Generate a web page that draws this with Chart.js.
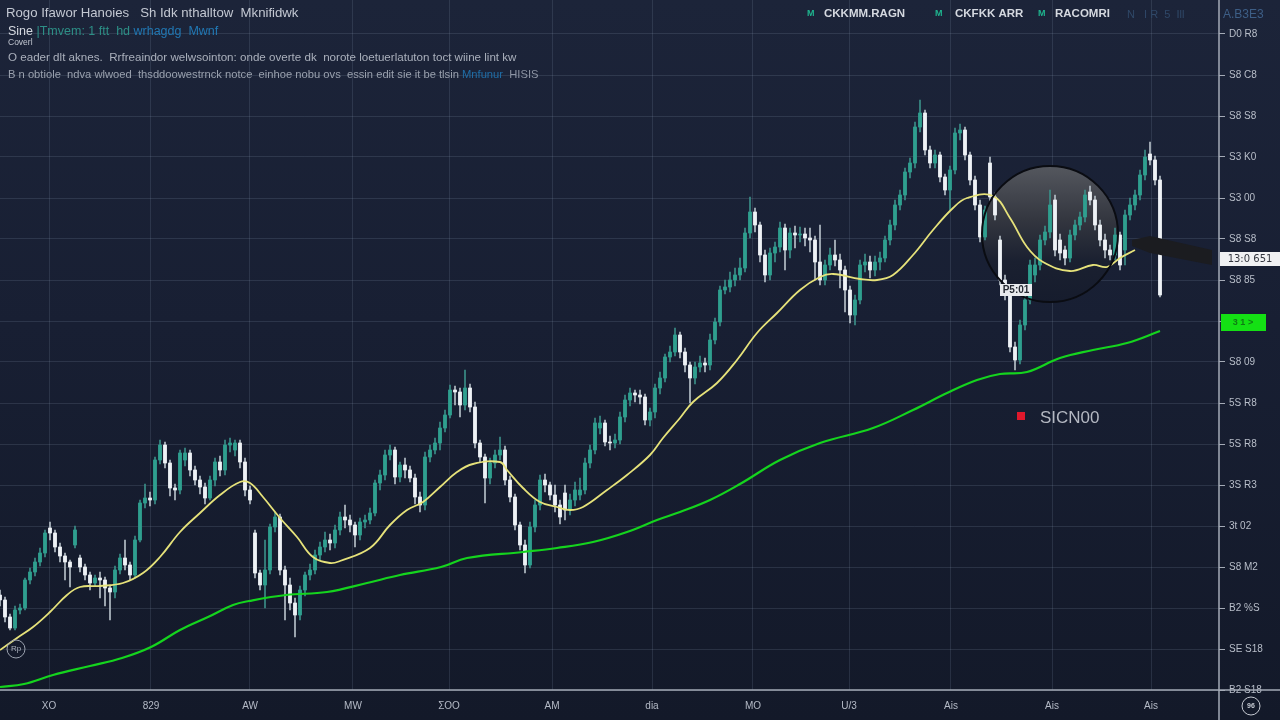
<!DOCTYPE html>
<html>
<head>
<meta charset="utf-8">
<title>chart</title>
<script src="https://cdn.jsdelivr.net/npm/chart.js@4"></script>
<style>
html,body{margin:0;padding:0;width:1280px;height:720px;overflow:hidden;background:#151b2d}
canvas{display:block}
</style>
</head>
<body>
<canvas id="chart" width="1280" height="720"></canvas>
<script>
// prices are in axis units, candles are one per session
var opens = [95,90,73,62,80,82,110,118,128,137,162,157,143,134,128,145,132,123,115,107,112,110,102,98,120,132,125,115,150,187,192,190,230,245,227,202,200,230,237,220,210,203,192,210,228,220,245,240,247,228,200,157,117,105,120,163,173,120,105,87,75,100,115,120,135,143,150,147,160,173,170,165,155,168,170,177,207,215,235,240,213,225,220,212,193,185,233,240,247,262,275,300,298,285,302,283,247,233,212,227,235,240,210,193,165,145,125,163,185,210,205,195,185,197,180,190,195,200,227,240,262,267,248,247,250,273,290,297,295,293,270,278,302,312,333,338,355,338,325,312,323,327,325,350,368,400,403,410,415,422,457,478,465,435,415,437,443,462,440,457,455,456,452,450,428,410,425,435,430,420,400,375,390,425,428,420,428,432,450,465,485,495,518,527,563,577,540,527,535,513,500,520,557,560,535,510,485,453,527,493,450,410,395,343,330,365,390,415,425,450,458,490,450,440,432,455,465,473,498,490,465,450,440,435,455,440,475,485,495,515,536,530,510];
var closes = [90,73,62,80,82,110,118,128,137,157,157,143,134,128,123,160,123,115,107,112,110,102,98,120,132,125,115,150,187,192,190,230,245,227,202,200,237,237,220,210,203,192,210,228,220,245,247,247,228,200,190,117,105,120,163,173,120,105,87,75,100,115,120,135,143,150,147,160,173,170,165,155,168,170,177,207,215,235,240,213,225,220,212,193,185,233,240,247,262,275,300,298,285,302,283,247,233,212,227,235,240,210,193,165,145,125,163,185,210,205,195,185,173,180,190,200,200,227,240,267,267,248,247,250,273,290,297,295,293,270,278,302,312,333,338,355,338,325,312,323,327,325,350,368,400,403,410,415,422,457,478,465,435,415,437,443,462,440,457,455,456,452,450,428,410,425,435,430,420,400,375,390,425,428,420,428,432,450,465,485,495,518,527,563,577,540,527,535,513,500,520,557,560,535,510,485,453,480,493,475,410,395,343,330,365,390,425,425,450,458,485,440,437,432,455,465,473,495,490,465,450,440,435,455,425,475,485,495,515,533,530,510,395];
var highs = [100,93,76,84,86,112,122,132,142,160,168,160,147,137,130,164,135,126,118,115,118,113,105,124,136,150,128,154,190,206,198,233,250,248,230,206,240,242,240,224,214,207,214,232,234,250,252,250,250,232,204,160,120,150,166,178,176,124,112,92,104,118,126,140,148,158,156,165,178,185,175,168,172,175,182,210,220,240,245,243,228,232,224,216,198,238,245,252,268,280,305,304,302,320,306,288,250,236,232,240,253,244,214,196,168,150,168,190,215,216,208,205,190,205,196,208,212,232,245,272,274,270,254,256,278,295,302,300,300,296,282,306,318,336,344,362,358,342,328,328,334,332,356,372,404,410,418,422,432,462,493,482,468,440,442,448,468,466,462,464,463,462,462,454,465,430,442,450,436,424,404,395,430,436,434,434,438,454,470,490,500,522,532,568,590,580,544,540,538,516,524,562,566,563,538,514,490,484,533,497,454,415,400,348,370,394,430,432,455,464,500,495,456,444,460,470,478,500,504,494,470,456,445,462,458,480,492,500,520,540,548,534,514];
var lows = [84,68,60,60,76,80,106,114,124,133,150,138,128,110,103,142,118,110,100,104,92,84,70,92,116,120,110,112,148,182,184,186,226,222,194,190,196,224,214,205,196,186,190,204,214,215,238,234,222,194,186,112,100,82,116,158,115,70,80,53,70,94,110,116,130,138,140,142,155,162,158,143,150,162,166,174,200,210,230,206,208,212,208,186,178,180,228,236,240,258,272,285,273,280,278,242,228,187,206,222,230,205,188,160,140,117,122,158,180,198,190,178,166,170,175,184,190,196,222,236,256,244,240,242,246,268,284,288,286,265,264,272,296,308,328,334,332,318,287,306,318,318,320,346,364,396,398,404,410,418,452,458,428,408,410,428,438,420,432,442,448,444,438,410,405,405,420,424,402,378,367,365,386,418,412,414,420,428,445,460,480,490,512,522,558,535,522,522,508,495,480,516,550,530,505,480,448,450,488,470,405,390,338,320,326,360,386,408,420,445,452,434,430,425,428,450,460,468,485,460,444,432,430,430,420,425,470,480,490,510,525,505,393];

var fastX = [0,3.4,6.6,10,13.4,16,20,24.6,28.6,32,36,40,44,48,50,52.6,56,59.4,62.6,66,68,74,78,81.4,84.6,88,91.4,94.6,100,101.4,104.6,108,111.4,114,116.6,121.4,125.4,130,132.6,136,138.6,143.4,147.4,151.4,155.4,160,164,166.6,172,175.4,178.6,182.6,186.6,190.6,193.4,198.6,202,205.4,208.6,214,218.6,221.4,224,227];
var fastY = [40,52,63,78,95,103,104,107,117,133,158,177,195,208,207,193,172,153,133,127,129,142,165,180,188,203,218,226,228,220,202,188,183,180,183,200,215,235,252,272,288,307,330,357,377,400,413,416,411,410,415,435,460,482,492,494,472,443,428,419,425,423,432,440];
var slowX = [0,4.8,10.6,18,24.4,30.2,36,41.6,46.6,49.8,57.2,65.4,73.4,80,88.2,93.4,104.6,111.4,118.6,125.4,131.4,136,142,148,156,164,174.6,182.6,189.4,195.4,200,205.4,212,218.6,225.4,232];
var slowY = [3,6,15,24,32,43,60,73,85,89,95,98,107,115,123,132,138,142,148,158,170,178,190,206,230,247,262,280,297,310,316,318,332,340,347,359];

var priceTicks = [0,41,82,123,164,205,246,287,328,369,410,451,492,533,574,615,656];
var priceLabels = ['B2 S18','SE S18','B2 %S','S8 M2','3t 02','3S R3','5S R8','5S R8','S8 09','','S8 85','S8 S8','S3 00','S3 K0','S8 S8','S8 C8','D0 R8'];
var dateTicks = [9.8,30.2,50,70.6,89.8,110.4,130.4,150.6,169.8,190.2,210.4,230.2];
var dateLabels = ['XO','829','AW','MW','\u01A9OO','AM','dia','MO','U/3','Ais','Ais','Ais'];

var headLines = [
	[['Rogo Ifawor Hanoies   Sh Idk nthalltow  Mknifidwk', '#c3c8d2']],
	[['Sine ', '#d5d9e0'], ['|Tmvem: 1 ftt  hd ', '#2d8f86'], ['wrhagdg  Mwnf', '#2178b4']],
	[['Coverl', '#c3c8d2']],
	[['O eader dlt aknes.  Rrfreaindor welwsointon: onde overte dk  norote loetuerlatuton toct wiine lint kw', '#aab0bc']],
	[['B n obtiole  ndva wlwoed  thsddoowestrnck notce  einhoe nobu ovs  essin edit sie it be tlsin ', '#9aa1ae'], ['Mnfunur', '#1f6ea8'], ['  HISIS', '#8d94a3']]
];
var topTabs = ['CKKMM.RAGN', 'CKFKK ARR', 'RACOMRI'];

var candles = opens.map(function (o, i) { return {x: i, y: [o, closes[i]]}; });
var wicks = highs.map(function (h, i) { return {x: i, y: [lows[i], h]}; });
var bodyColors = opens.map(function (o, i) { return closes[i] >= o ? '#2f9f8f' : '#eef2f6'; });
var wickColors = opens.map(function (o, i) { return closes[i] >= o ? '#3a8f88' : '#b6c0c8'; });

function pairs(xs, ys) {
	return xs.map(function (x, i) { return {x: x, y: ys[i]}; });
}

function drawText(c, text, x, y, font, color, align) {
	c.font = font;
	c.fillStyle = color;
	c.textAlign = align || 'left';
	c.textBaseline = 'middle';
	c.fillText(text, x, y);
}

// backdrop, grey lens and everything that sits on top of the price panel
var decorations = {
	id: 'decorations',
	beforeDraw: function (chart) {
		var c = chart.ctx;
		var g = c.createLinearGradient(0, 0, 0, 720);
		g.addColorStop(0, '#1c2439');
		g.addColorStop(0.45, '#181f33');
		g.addColorStop(1, '#131929');
		c.save();
		c.fillStyle = g;
		c.fillRect(0, 0, 1280, 720);
		c.restore();
	},
	beforeDatasetsDraw: function (chart) {
		var c = chart.ctx;
		var g = c.createLinearGradient(0, 165, 0, 303);
		g.addColorStop(0, '#55585f');
		g.addColorStop(0.4, '#33363f');
		g.addColorStop(0.7, '#1a2030');
		g.addColorStop(1, '#161c2d');
		c.save();
		c.beginPath();
		c.arc(1050, 234, 68, 0, Math.PI * 2);
		c.fillStyle = g;
		c.fill();
		c.restore();
	},
	afterDatasetsDraw: function (chart) {
		var c = chart.ctx;
		c.save();
		// lens rim
		c.beginPath();
		c.arc(1050, 234, 68, 0, Math.PI * 2);
		c.lineWidth = 2;
		c.strokeStyle = '#0a0c12';
		c.stroke();
		// lens handle
		c.beginPath();
		c.moveTo(1132, 240);
		c.lineTo(1150, 236);
		c.lineTo(1212, 250);
		c.lineTo(1212, 265);
		c.lineTo(1150, 253);
		c.lineTo(1132, 246);
		c.closePath();
		c.fillStyle = '#1b1c20';
		c.fill();
		// white flag under the lens
		c.fillStyle = '#e9ebee';
		c.fillRect(1000, 284, 32, 12);
		drawText(c, 'P5:01', 1016, 290, 'bold 10px "Liberation Sans"', '#262a33', 'center');
		// red marker and its caption
		c.fillStyle = '#e0182c';
		c.fillRect(1017, 412, 8, 8);
		drawText(c, 'SICN00', 1040, 418, '17px "Liberation Sans"', '#b4b8c2');
		// badges
		c.strokeStyle = '#9ba2af';
		c.lineWidth = 1;
		c.beginPath();
		c.arc(16, 649, 9, 0, Math.PI * 2);
		c.stroke();
		drawText(c, 'Rp', 16, 649, '8px "Liberation Sans"', '#aab0bc', 'center');
		c.strokeStyle = '#c6cad2';
		c.beginPath();
		c.arc(1251, 706, 9, 0, Math.PI * 2);
		c.stroke();
		drawText(c, '96', 1251, 706, 'bold 7px "Liberation Sans"', '#c6cad2', 'center');
		// price tags on the axis
		c.fillStyle = '#f0f1f3';
		c.fillRect(1220, 252, 60, 14);
		drawText(c, '13:0 651', 1250, 259, '10px "DejaVu Sans"', '#33363f', 'center');
		c.fillStyle = '#14e014';
		c.fillRect(1221, 314, 45, 17);
		drawText(c, '3 1 >', 1243, 323, 'bold 9px "Liberation Sans"', '#0f7a14', 'center');
		// header text
		var rows = [13, 32, 43, 58, 75];
		var sizes = [13.2, 12.5, 8.5, 11.6, 11.2];
		headLines.forEach(function (parts, r) {
			var x = r == 0 ? 6 : 8;
			parts.forEach(function (p) {
				var font = sizes[r] + 'px "Liberation Sans"';
				drawText(c, p[0], x, rows[r], font, p[1]);
				x += c.measureText(p[0]).width;
			});
		});
		// tabs at top right
		var markX = [807, 935, 1038];
		var tabX = [824, 955, 1055];
		topTabs.forEach(function (t, i) {
			drawText(c, 'M', markX[i], 14, 'bold 9px "Liberation Sans"', '#1fb58f');
			drawText(c, t, tabX[i], 14, 'bold 11.5px "Liberation Sans"', '#d5d9e0');
		});
		drawText(c, 'A.B3E3', 1223, 15, '12px "Liberation Sans"', '#3d5e86');
		drawText(c, 'N   I R  5  Ill', 1127, 15, '11px "Liberation Sans"', '#2f4868');
		// axis lines
		c.strokeStyle = '#a4aab6';
		c.lineWidth = 1.5;
		c.beginPath();
		c.moveTo(1219, 0);
		c.lineTo(1219, 720);
		c.moveTo(0, 690);
		c.lineTo(1280, 690);
		c.stroke();
		c.restore();
	}
};

var ctx = document.getElementById('chart').getContext('2d');
var chart = new Chart(ctx, {
	type: 'bar',
	plugins: [decorations],
	data: {
		datasets: [{
			label: 'Wick',
			data: wicks,
			backgroundColor: wickColors,
			barThickness: 1,
			grouped: false,
			order: 3
		}, {
			label: 'Candle',
			data: candles,
			backgroundColor: bodyColors,
			barThickness: 3.2,
			grouped: false,
			order: 2
		}, {
			label: 'Slow',
			type: 'line',
			data: pairs(slowX, slowY),
			borderColor: '#15d41e',
			borderWidth: 2.2,
			pointRadius: 0,
			tension: 0.4,
			order: 1
		}, {
			label: 'Fast',
			type: 'line',
			data: pairs(fastX, fastY),
			borderColor: '#e6e27a',
			borderWidth: 1.8,
			pointRadius: 0,
			tension: 0.4,
			order: 0
		}]
	},
	options: {
		responsive: false,
		animation: false,
		layout: {padding: 0},
		plugins: {legend: {display: false}, tooltip: {enabled: false}},
		scales: {
			x: {
				type: 'linear',
				offset: false,
				min: 0,
				max: 243.8,
				afterBuildTicks: function (s) {
					s.ticks = dateTicks.map(function (v) { return {value: v}; });
				},
				afterFit: function (s) {
					s.height = 30;
					s.paddingLeft = 0;
					s.paddingRight = 0;
				},
				grid: {color: 'rgba(150,165,190,0.16)', drawTicks: false, offset: false},
				border: {display: false},
				ticks: {
					autoSkip: false,
					maxRotation: 0,
					padding: 10,
					color: '#b4bac6',
					font: {family: '"Liberation Sans"', size: 10},
					callback: function (v) { return dateLabels[dateTicks.indexOf(v)]; }
				}
			},
			y: {
				position: 'right',
				min: 0,
				max: 690,
				afterBuildTicks: function (s) {
					s.ticks = priceTicks.map(function (v) { return {value: v}; });
				},
				afterFit: function (s) {
					s.width = 61;
					s.paddingTop = 0;
					s.paddingBottom = 0;
				},
				grid: {color: 'rgba(150,165,190,0.17)', tickColor: '#a4aab6', tickLength: 6},
				border: {display: false},
				ticks: {
					autoSkip: false,
					padding: 4,
					color: '#b8bec9',
					font: {family: '"Liberation Sans"', size: 10},
					callback: function (v) { return priceLabels[priceTicks.indexOf(v)]; }
				}
			}
		}
	}
});
</script>
</body>
</html>
